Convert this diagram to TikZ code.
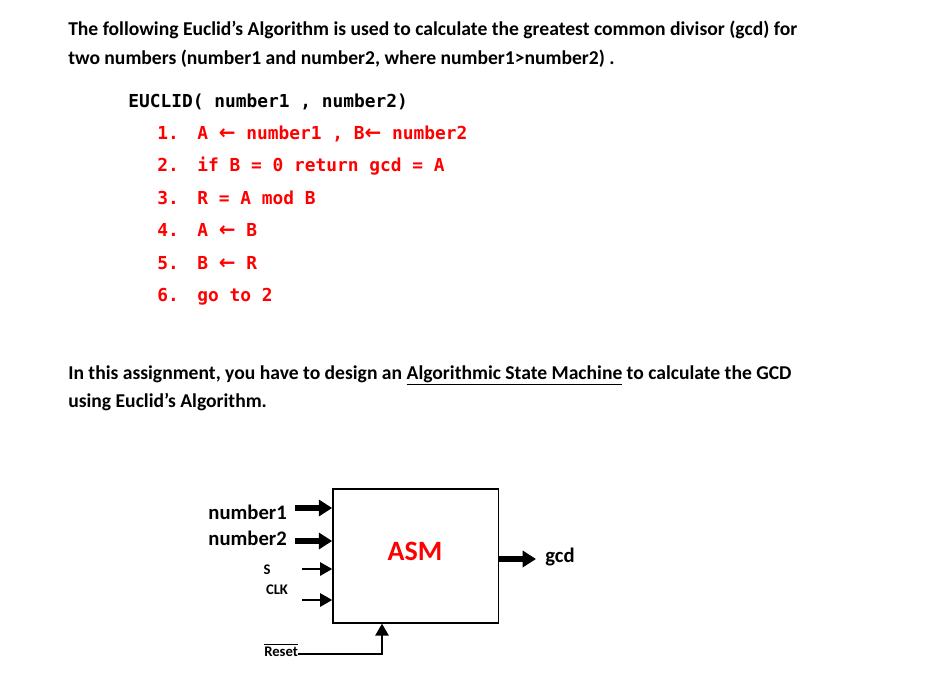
\documentclass[tikz,border=0pt]{standalone}
\usepackage{fontspec}
\setmainfont{Carlito}
\newfontfamily\codefont{DejaVu Sans Mono}
\newfontfamily\arrfont{DejaVu Sans}
\newcommand{\larr}{{\arrfont\fontsize{15pt}{15pt}\selectfont\bfseries ←}}
\usetikzlibrary{arrows.meta}
\begin{document}
\begin{tikzpicture}[x=0.75pt,y=-0.75pt,
  para/.style={anchor=base west,inner sep=0pt,font=\fontsize{14.7pt}{17pt}\selectfont\bfseries},
  code/.style={anchor=base west,inner sep=0pt,font=\fontsize{13.4pt}{16pt}\codefont\bfseries},
  red code/.style={code,text=red},
  lbl/.style={inner sep=0pt,font=\fontsize{15.5pt}{18pt}\selectfont\bfseries},
  small/.style={inner sep=0pt,font=\fontsize{11pt}{13pt}\selectfont\bfseries},
  fat/.style={line width=4.5pt,-{Triangle[length=10pt,width=12pt]}},
  thin/.style={line width=1.2pt,-{Triangle[length=9pt,width=10pt]}}]
\useasboundingbox (0,0) rectangle (927,678);
\node[para] (p1) at (68,36) {The following Euclid’s Algorithm is used to calculate the greatest common divisor (gcd) for};
\node[para] (p2) at (68,64) {two numbers (number1 and number2, where number1>number2) .};
\node[code] (c0) at (128,107) {EUCLID( number1 , number2)};
\foreach \n/\t/\yy in {1/{A \larr\ number1 , B\larr\ number2}/139, 2/{if B = 0 return gcd = A}/171, 3/{R = A mod B}/204, 4/{A \larr\ B}/236, 5/{B \larr\ R}/269, 6/{go to 2}/301}{
  \node[red code] (n\n) at (157,\yy) {\n.};
  \node[red code] (t\n) at (197,\yy) {\t};
}
\node[para] (q1) at (68,379) {In this assignment, you have to design an \underline{Algorithmic State Machine} to calculate the GCD};
\node[para] (q2) at (68,407) {using Euclid’s Algorithm.};
\node[draw,line width=1pt,minimum width=124pt,minimum height=100.5pt,inner sep=0pt] (asm) at (415.5,556) {};
\node[text=red,font=\fontsize{21pt}{24pt}\selectfont\bfseries] (asml) at (415,551) {ASM};
\node[lbl,anchor=east] (i1) at (287,512) {number1};
\node[lbl,anchor=east] (i2) at (287,538) {number2};
\node[small] (s) at (267,570) {S};
\node[small] (clk) at (277,590) {CLK};
\node[small,anchor=west] (rst) at (264,650) {$\overline{\mbox{Reset}}$};
\node[lbl,anchor=west] (gcd) at (545,557) {gcd};
\coordinate (a1) at (295,508);
\coordinate (a2) at (295,541);
\coordinate (a3) at (302,569);
\coordinate (a4) at (302,600);
\draw[fat] (a1) -- (asm.west |- a1);
\draw[fat] (a2) -- (asm.west |- a2);
\draw[thin] (a3) -- (asm.west |- a3);
\draw[thin] (a4) -- (asm.west |- a4);
\coordinate (g0) at (498,559);
\draw[fat] (asm.east |- g0) -- (536,559);
\coordinate (r0) at (382,654);
\draw[thin,line width=1.4pt] (rst.east |- r0) -- (r0) -- (asm.south -| r0);
\end{tikzpicture}
\end{document}
